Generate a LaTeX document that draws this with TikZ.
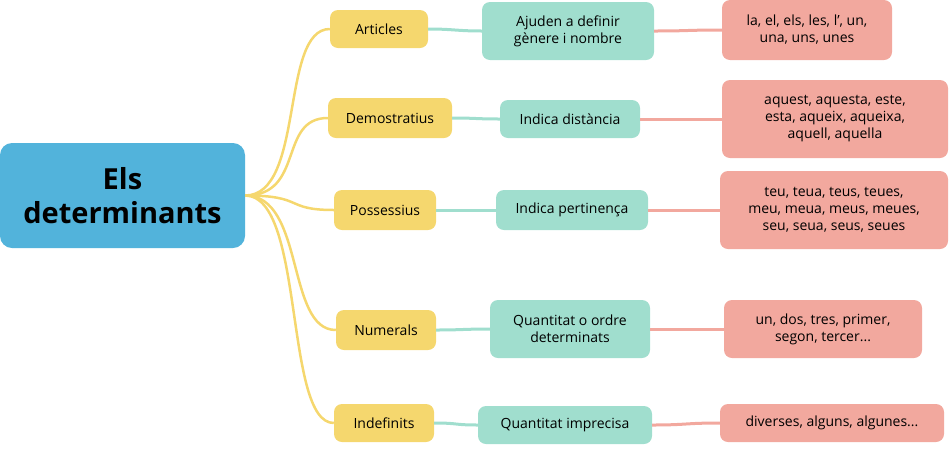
\documentclass[tikz,border=0pt]{standalone}
\usepackage{fontspec}
\usetikzlibrary{calc}
\setmainfont{Open Sans}
\begin{document}
\begin{tikzpicture}[x=1pt,y=-1pt,
 box/.style={rounded corners=8pt,align=center,font=\fontsize{14}{17}\selectfont,inner sep=0pt},
 lone/.style={box,fill=yel},
 ltwo/.style={box,fill=teal2},
 lthree/.style={box,fill=sal},
 cy/.style={draw=yel,line width=2.5pt},
 ct/.style={draw=teal2,line width=3pt},
 cs/.style={draw=sal,line width=3pt}]
\definecolor{yel}{HTML}{F5D76E}
\definecolor{teal2}{HTML}{A0DECE}
\definecolor{sal}{HTML}{F2A89E}
\definecolor{blu}{HTML}{52B3DB}
\useasboundingbox (0,0) rectangle (950,448);
\node[box,fill=blu,minimum width=245pt,minimum height=105pt,font=\bfseries\fontsize{29}{34}\selectfont,rounded corners=12pt] (root) at (122.5,195.5) {Els\\determinants};
\node[lone,minimum width=98pt,minimum height=38pt] (a1) at (379,29) {Articles};
\node[lone,minimum width=124pt,minimum height=40pt] (a2) at (390,118) {Demostratius};
\node[lone,minimum width=102pt,minimum height=40pt] (a3) at (385,210) {Possessius};
\node[lone,minimum width=100pt,minimum height=40pt] (a4) at (386,330) {Numerals};
\node[lone,minimum width=100pt,minimum height=38pt] (a5) at (384,423) {Indefinits};
\node[ltwo,minimum width=172pt,minimum height=58pt] (b1) at (568,31) {Ajuden a definir\\gènere i nombre};
\node[ltwo,minimum width=140pt,minimum height=38pt] (b2) at (570,119) {Indica distància};
\node[ltwo,minimum width=152pt,minimum height=40pt] (b3) at (572,210) {Indica pertinença};
\node[ltwo,minimum width=160pt,minimum height=58pt] (b4) at (570,329) {Quantitat o ordre\\determinats};
\node[ltwo,minimum width=174pt,minimum height=38pt] (b5) at (565,425) {Quantitat imprecisa};
\node[lthree,minimum width=170pt,minimum height=60pt] (c1) at (807,30) {la, el, els, les, l', un,\\una, uns, unes};
\node[lthree,minimum width=226pt,minimum height=78pt] (c2) at (835,119) {aquest, aquesta, este,\\esta, aqueix, aqueixa,\\aquell, aquella};
\node[lthree,minimum width=228pt,minimum height=78pt] (c3) at (834,210) {teu, teua, teus, teues,\\meu, meua, meus, meues,\\seu, seua, seus, seues};
\node[lthree,minimum width=198pt,minimum height=58pt] (c4) at (823,329) {un, dos, tres, primer,\\segon, tercer...};
\node[lthree,minimum width=224pt,minimum height=38pt] (c5) at (832,423) {diverses, alguns, algunes...};
\foreach \i in {1,...,5}{
 \draw[cy] (root.east) .. controls ++(60,0) and ($(a\i.west)+(-50,0)$) .. (a\i.west);
 \draw[ct] (a\i.east) .. controls ++(25,0) and ($(b\i.west)+(-25,0)$) .. (b\i.west);
 \draw[cs] (b\i.east) .. controls ++(35,0) and ($(c\i.west)+(-35,0)$) .. (c\i.west);
}
\end{tikzpicture}
\end{document}
